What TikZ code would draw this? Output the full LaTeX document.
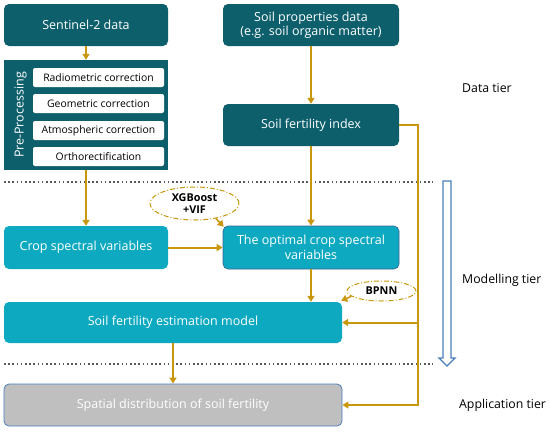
\documentclass[tikz,border=0pt]{standalone}
\usepackage{fontspec}
\setmainfont{Open Sans}
\usetikzlibrary{arrows.meta,shapes.geometric}
\definecolor{dteal}{HTML}{0D5F6C}
\definecolor{cyanb}{HTML}{0DA9C1}
\definecolor{goldc}{HTML}{C9970C}
\definecolor{gbox}{HTML}{BFBFBF}
\definecolor{bordc}{HTML}{4A7EBB}
\definecolor{optb}{HTML}{3C6494}
\definecolor{dotc}{HTML}{5A5A5A}
\tikzset{
  bigbox/.style={rounded corners=5pt, inner sep=0pt, align=center, text=white,
    font=\fontsize{12.5}{14.5}\selectfont},
  darkbox/.style={bigbox, fill=dteal},
  cyanbox/.style={bigbox, fill=cyanb},
  subbox/.style={fill=white, rounded corners=2pt, minimum width=131pt, minimum height=19pt,
    inner sep=0pt, font=\fontsize{10.4}{12}\selectfont},
  conn/.style={draw=goldc, line width=2pt, -{Triangle[length=6pt,width=7pt]}},
  oval/.style={ellipse, draw=goldc, line width=1pt, dash pattern=on 5pt off 2pt on 1pt off 2pt,
    fill=white, inner sep=0pt, align=center, font=\bfseries\fontsize{10.8}{12}\selectfont},
  tierlbl/.style={anchor=west, inner sep=0pt, font=\fontsize{12.3}{14}\selectfont},
  tierline/.style={draw=dotc, line width=1.6pt, dash pattern=on 1.6pt off 2.6pt}
}
\begin{document}
\begin{tikzpicture}[x=1pt,y=-1pt]
\useasboundingbox (0,0) rectangle (550,432);
% top row
\node[darkbox, minimum width=164pt, minimum height=42pt] (sen) at (86,25) {Sentinel-2 data};
\node[darkbox, minimum width=176pt, minimum height=42pt] (soil) at (311,25) {Soil properties data\\(e.g. soil organic matter)};
% pre-processing
\node[fill=dteal, minimum width=164pt, minimum height=110pt, inner sep=0pt] (pre) at (86,115) {};
\node[text=white, rotate=90, font=\fontsize{12.5}{14}\selectfont, inner sep=0pt] (prelbl) at (20.5,115) {Pre-Processing};
\node[subbox] (rad) at (98.5,77.5) {Radiometric correction};
\node[subbox] (geo) at (98.5,103.5) {Geometric correction};
\node[subbox] (atm) at (98.5,130.5) {Atmospheric correction};
\node[subbox] (ort) at (98.5,156.5) {Orthorectification};
\node[darkbox, minimum width=176pt, minimum height=42pt] (sfi) at (311,125) {Soil fertility index};
% modelling
\node[cyanbox, minimum width=164pt, minimum height=43pt] (crop) at (86,247.5) {Crop spectral variables};
\node[cyanbox, draw=optb, line width=0.6pt, minimum width=176pt, minimum height=43pt] (opt) at (311,247.5) {The optimal crop spectral\\variables};
\node[cyanbox, minimum width=338pt, minimum height=41pt] (model) at (173,322.5) {Soil fertility estimation model};
\node[bigbox, fill=gbox, draw=bordc, line width=0.8pt, minimum width=338pt, minimum height=42pt] (spat) at (173,405) {Spatial distribution of soil fertility};
% ovals
\node[oval, minimum width=89pt, minimum height=33pt] (xgb) at (194.5,203.5) {XGBoost\\+VIF};
\node[oval, minimum width=69pt, minimum height=20pt] (bpnn) at (381.5,291) {BPNN};
% tier separators
\draw[tierline] (4,182) -- (433,182);
\draw[tierline] (4,364) -- (433,364);
% blue hollow arrow
\draw[draw=bordc, line width=1.3pt, fill=white]
  (443,181) -- (451,181) -- (451,358) -- (455,358) -- (447,366) -- (439,358) -- (443,358) -- cycle;
% tier labels
\node[tierlbl] (dt) at (462,88) {Data tier};
\node[tierlbl] (mt) at (462,280) {Modelling tier};
\node[tierlbl] (at) at (459,405) {Application tier};
% connectors
\coordinate (trunk) at (418,0);
\draw[conn] (sen.south) -- (pre.north);
\draw[conn] (soil.south) -- (sfi.north);
\draw[conn] (pre.south) -- (crop.north);
\draw[conn] (sfi.south) -- (opt.north);
\draw[conn] (crop.east) -- (opt.west);
\draw[conn] (opt.south) -- (opt.south |- model.north);
\draw[conn] (model.south) -- (spat.north);
\draw[conn] (sfi.east) -- (sfi.east -| trunk) -- (spat.east -| trunk) -- (spat.east);
\draw[conn] (model.east -| trunk) -- (model.east);
\draw[conn, line width=1.5pt] (xgb.-35) -- ([shift={(1pt,-1pt)}]opt.north west);
\draw[conn, line width=1.5pt] (bpnn.190) -- ([shift={(-1pt,1pt)}]model.north east);
\end{tikzpicture}
\end{document}
